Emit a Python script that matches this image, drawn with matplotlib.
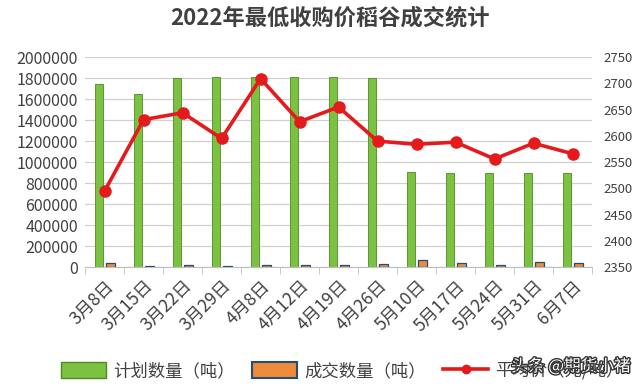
import numpy as np
import matplotlib.pyplot as plt
import matplotlib.patheffects as pe
from matplotlib.patches import Patch
from matplotlib.lines import Line2D

plt.rcParams['font.family'] = ['Noto Sans CJK SC', 'DejaVu Sans']

dates = ["3月8日", "3月15日", "3月22日", "3月29日", "4月8日", "4月12日", "4月19日",
         "4月26日", "5月10日", "5月17日", "5月24日", "5月31日", "6月7日"]
planned = [1740000, 1648000, 1803000, 1810000, 1810000, 1810000, 1807000,
           1805000, 905000, 898000, 892000, 900000, 900000]
traded = [36000, 15000, 17000, 14000, 22000, 22000, 22000,
          30000, 68000, 36000, 17000, 52000, 37000]
avg_price = [2495, 2631, 2644, 2595, 2709, 2627, 2655,
             2590, 2584, 2588, 2556, 2586, 2566]

fig = plt.figure(figsize=(6.4, 3.86), dpi=100)
ax = fig.add_axes([0.133, 0.308, 0.792, 0.544])
x = np.arange(len(dates))

ax.bar(x - 0.15, planned, width=0.21, color='#7cc242', edgecolor='#4e8a22', linewidth=0.6, zorder=2)
ax.bar(x + 0.15, traded, width=0.22, color='#ee8a3a', edgecolor='#1f4e79', linewidth=0.9, zorder=2)

ax.set_xlim(-0.5, len(dates) - 0.5)
ax.set_ylim(0, 2000000)
ax.set_yticks(np.arange(0, 2000001, 200000))
ax.set_yticklabels([str(v) for v in range(0, 2000001, 200000)], fontsize=11.5, color='#404040')
ax.yaxis.grid(True, color='#d0d0d0', linewidth=0.9, zorder=0)
ax.set_axisbelow(True)
for s in ['top', 'right', 'left']:
    ax.spines[s].set_visible(False)
ax.spines['bottom'].set_color('#bfbfbf')
ax.tick_params(axis='y', length=0, pad=5)

ax.set_xticks(x)
ax.set_xticklabels(dates, rotation=45, ha='right', rotation_mode='anchor', fontsize=12.5, color='#404040')
ax.tick_params(axis='x', length=0, pad=7)
ax.set_xticks(np.arange(-0.5, len(dates), 1), minor=True)
ax.tick_params(axis='x', which='minor', length=5, color='#bfbfbf')

ax2 = ax.twinx()
ax2.plot(x, avg_price, color='#e41a1c', linewidth=2.6, marker='o', markersize=8, zorder=5)
ax2.set_ylim(2350, 2750)
ax2.set_yticks(np.arange(2350, 2751, 50))
ax2.tick_params(axis='y', length=0, labelsize=9.5, labelcolor='#404040', pad=8)
for s in ['top', 'right', 'left', 'bottom']:
    ax2.spines[s].set_visible(False)

fig.text(0.515, 0.953, "2022年最低收购价稻谷成交统计", ha='center', va='center',
         fontsize=16, fontweight='bold', color='#404040')

handles = [Patch(facecolor='#7cc242', edgecolor='#4e8a22'),
           Patch(facecolor='#ee8a3a', edgecolor='#1f4e79', linewidth=1.5),
           Line2D([0], [0], color='#e41a1c', linewidth=2.6, marker='o', markersize=6)]
fig.legend(handles, ["计划数量（吨）", "成交数量（吨）", "平均价（元/吨）"],
           loc='center', bbox_to_anchor=(0.535, 0.04), ncol=3, frameon=False,
           fontsize=12.5, labelcolor='#404040', handlelength=2.6, handleheight=1.0,
           columnspacing=1.0, handletextpad=0.4)

fig.text(0.985, 0.05, "头条 @期货小褚", ha='right', va='center', fontsize=12, color='white',
         path_effects=[pe.withStroke(linewidth=2, foreground='#333333')])

fig.savefig("out.png", dpi=100)
